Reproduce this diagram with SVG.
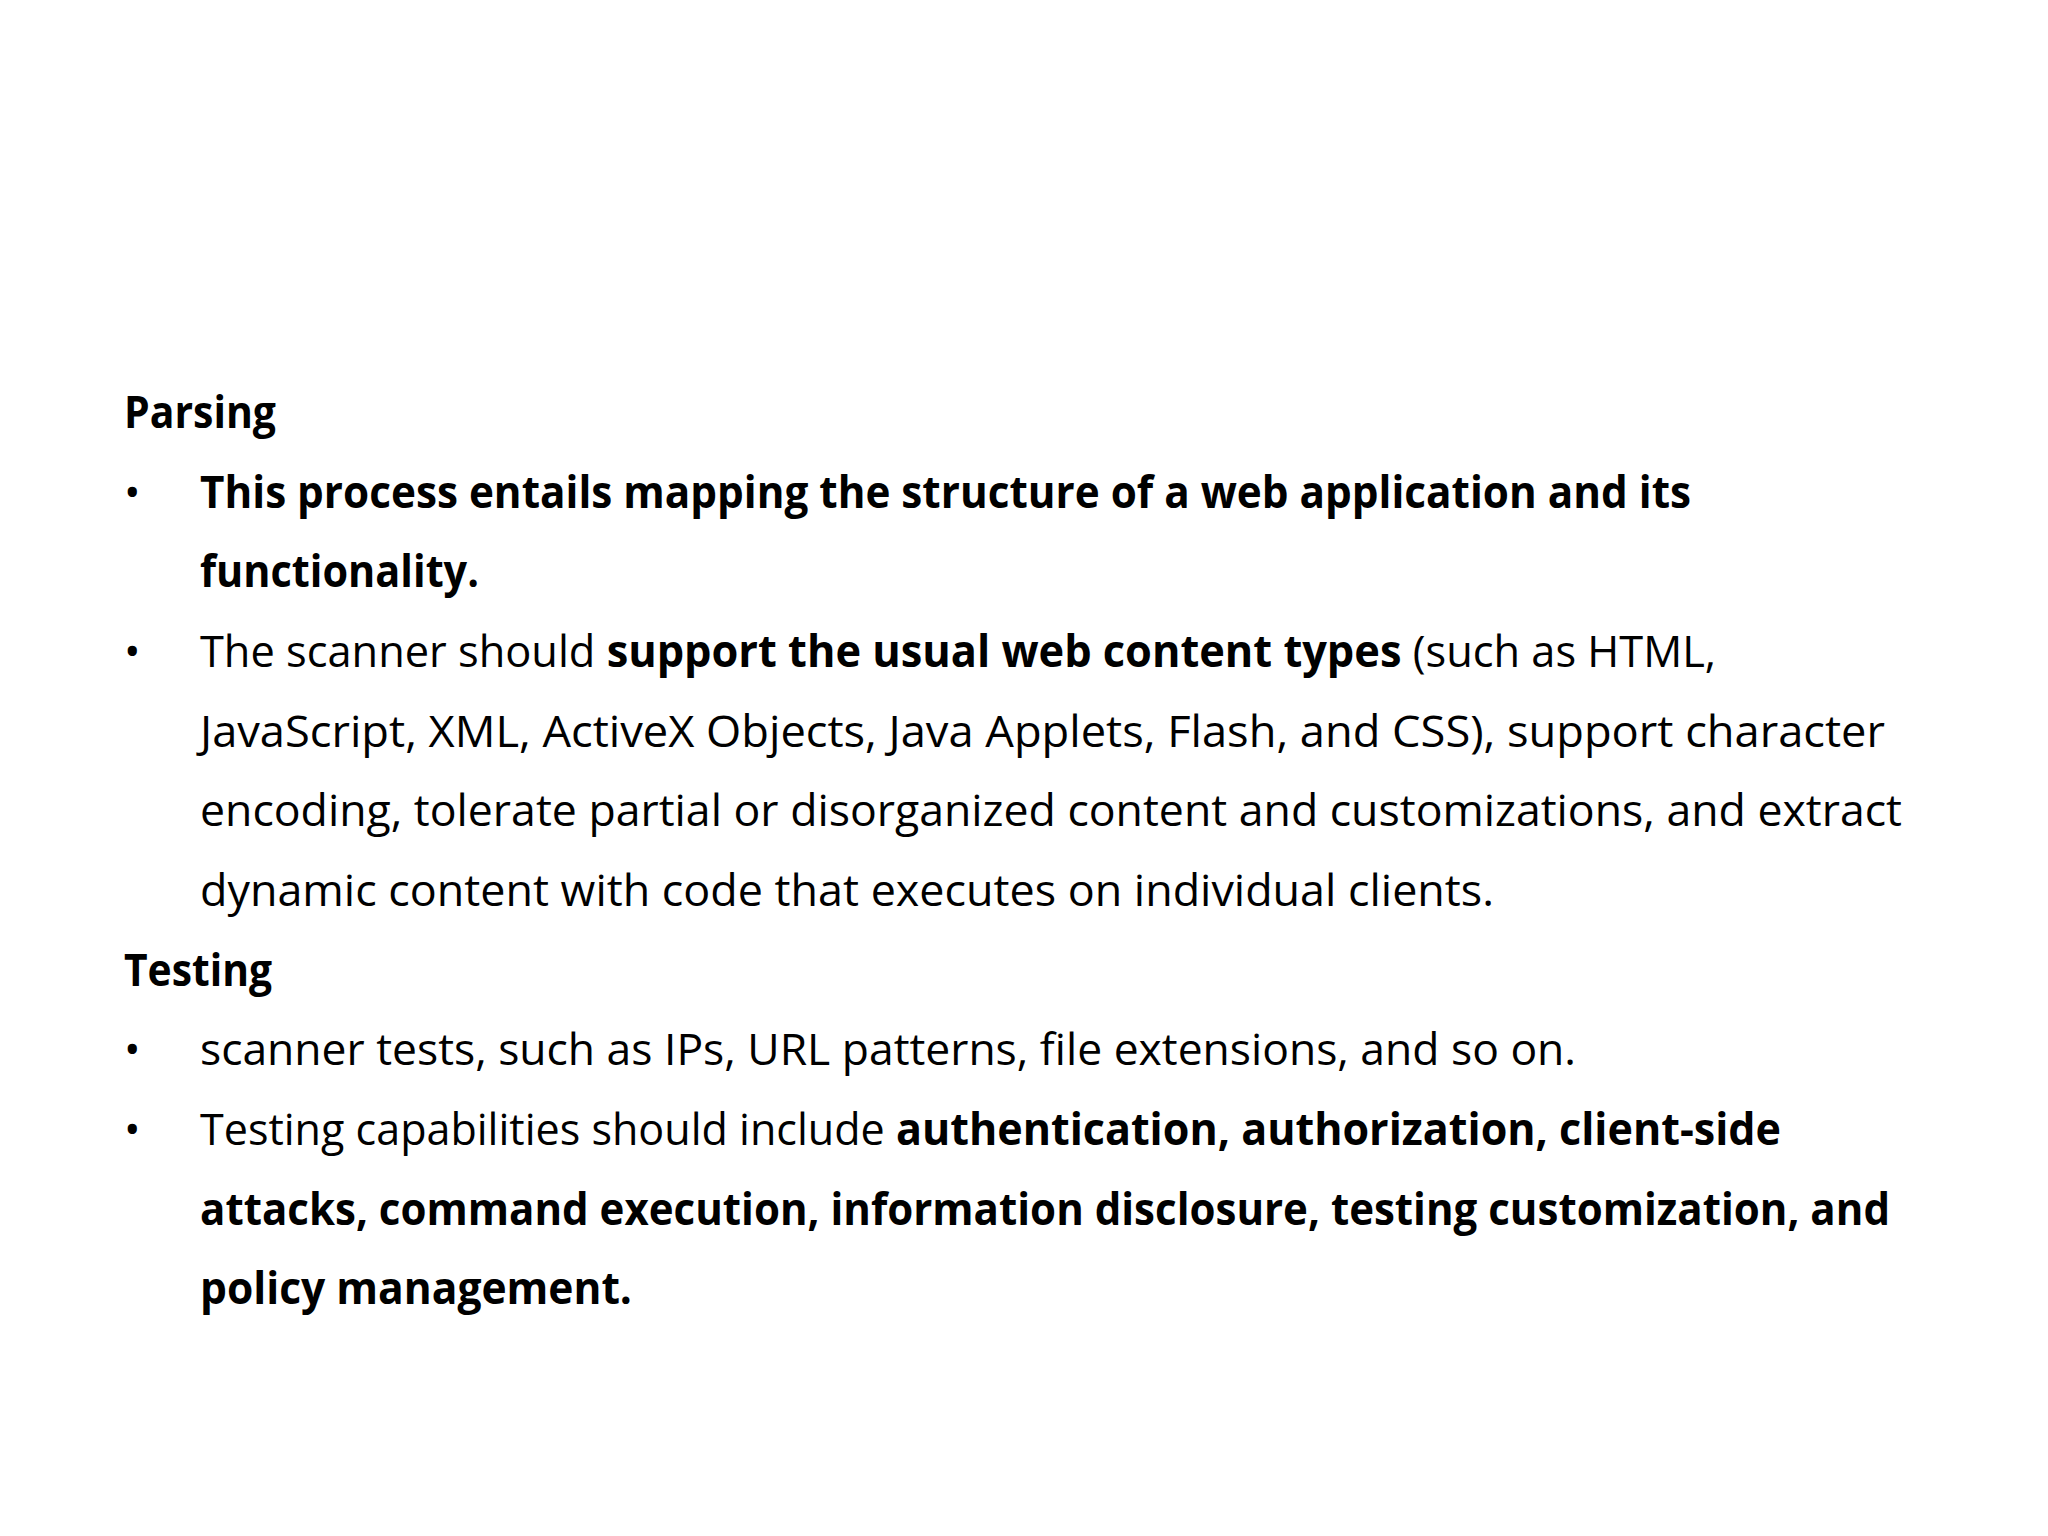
<svg xmlns="http://www.w3.org/2000/svg" width="2048" height="1536" viewBox="0 0 2048 1536">
<style>
text{font-family:"Open Sans","Noto Sans",sans-serif;font-size:44px;fill:#000}
.b{font-weight:bold}
</style>
<rect width="2048" height="1536" fill="#fff"/>
<g id="parsing">
<text x="124" y="428" class="b" textLength="152" lengthAdjust="spacingAndGlyphs">Parsing</text>
<text x="124" y="508">•</text>
<text x="200" y="508" class="b" textLength="1491" lengthAdjust="spacingAndGlyphs">This process entails mapping the structure of a web application and its</text>
<text x="200" y="587" class="b" textLength="279" lengthAdjust="spacingAndGlyphs">functionality.</text>
<text x="124" y="667">•</text>
<text x="200" y="667" textLength="1516" lengthAdjust="spacingAndGlyphs">The scanner should <tspan class="b">support the usual web content types</tspan> (such as HTML,</text>
<text x="200" y="747" textLength="1685" lengthAdjust="spacingAndGlyphs">JavaScript, XML, ActiveX Objects, Java Applets, Flash, and CSS), support character</text>
<text x="200" y="826" textLength="1702" lengthAdjust="spacingAndGlyphs">encoding, tolerate partial or disorganized content and customizations, and extract</text>
<text x="200" y="906" textLength="1294" lengthAdjust="spacingAndGlyphs">dynamic content with code that executes on individual clients.</text>
</g>
<g id="testing">
<text x="124" y="986" class="b" textLength="148" lengthAdjust="spacingAndGlyphs">Testing</text>
<text x="124" y="1065">•</text>
<text x="200" y="1065" textLength="1376" lengthAdjust="spacingAndGlyphs">scanner tests, such as IPs, URL patterns, file extensions, and so on.</text>
<text x="124" y="1145">•</text>
<text x="200" y="1145" textLength="1581" lengthAdjust="spacingAndGlyphs">Testing capabilities should include <tspan class="b">authentication, authorization, client-side</tspan></text>
<text x="200" y="1225" class="b" textLength="1690" lengthAdjust="spacingAndGlyphs">attacks, command execution, information disclosure, testing customization, and</text>
<text x="200" y="1304" class="b" textLength="432" lengthAdjust="spacingAndGlyphs">policy management.</text>
</g>
<g id="connectors"/>
</svg>
